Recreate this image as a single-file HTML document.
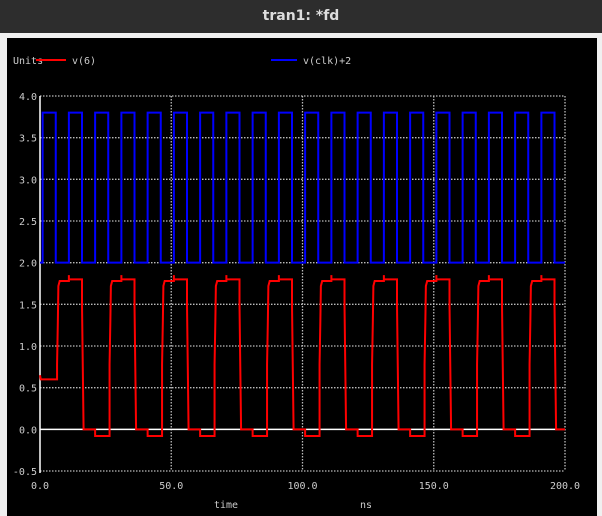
<!DOCTYPE html>
<html><head><meta charset="utf-8"><style>
body{margin:0;width:602px;height:516px;overflow:hidden;background:#f0f0f0;font-family:"DejaVu Sans Mono","Liberation Mono",monospace}
#title{position:absolute;left:0;top:0;width:602px;height:33px;background:#2d2d2d;color:#ddd;font:bold 14px "DejaVu Sans","Liberation Sans",sans-serif;text-align:center;line-height:33px}
#plot{position:absolute;left:7px;top:38px;width:590px;height:478px;background:#000}
svg{position:absolute;left:0;top:0}
text{font-family:"DejaVu Sans Mono","Liberation Mono",monospace;font-size:10px;fill:#ccc}
</style></head><body>
<div id="title">tran1: *fd</div>
<div id="plot"></div>
<svg id="chart" width="602" height="516"></svg>
<script>
const yTicks=[-0.5,0,0.5,1,1.5,2,2.5,3,3.5,4];
const yTickLabels=["-0.5","0.0","0.5","1.0","1.5","2.0","2.5","3.0","3.5","4.0"];
const xTicks=[0,50,100,150,200];
const xTickLabels=["0.0","50.0","100.0","150.0","200.0"];
// clock (v(clk)+2): rising/falling times (ns) and levels
const clkPeriod=10, clkRise=1, clkFall=6, clkLow=2.0, clkHigh=3.8;
// v(6): toggle output rising and falling edge times (ns)
const qRise=[6.5,26.5,46.5,66.5,86.5,106.5,126.5,146.5,166.5,186.5];
const qFall=[16,36,56,76,96,116,136,156,176,196];
const qHigh=1.8, qLow=0.0, qDip=-0.08, qInit=[0.65,0.6], qStep1=1.3, qStep2=0.75;

const svg=document.getElementById('chart');
const NS='http://www.w3.org/2000/svg';
const X0=40,X1=565,Y0=471,Y1=96;
const xs=t=>X0+(t-0)/(200-0)*(X1-X0);
const ys=v=>Y0-(v+0.5)/(4.5)*(Y0-Y1);
function el(tag,attrs,name){const e=document.createElementNS(NS,tag);for(const k in attrs)e.setAttribute(k,attrs[k]);


svg.appendChild(e);return e;}
// grid
yTicks.forEach((v,i)=>{
 if(v!==0) el('line',{x1:X0,x2:X1,y1:ys(v),y2:ys(v),stroke:'#bbb','stroke-width':1.3,'stroke-dasharray':'1.5 1.5'},'y-grid-line');
 const t=el('text',{x:X0-3,y:ys(v)+4,'text-anchor':'end'},'y-tick-label');t.textContent=yTickLabels[i];
});
xTicks.forEach((v,i)=>{
 if(v!==0) el('line',{x1:xs(v),x2:xs(v),y1:Y1,y2:Y0,stroke:'#bbb','stroke-width':1.3,'stroke-dasharray':'1.5 1.5'},'x-grid-line');
 const t=el('text',{x:xs(v),y:489,'text-anchor':'middle'},'x-tick-label');t.textContent=xTickLabels[i];
});
el('line',{x1:X0,x2:X0,y1:Y1,y2:Y0+2,stroke:'#fff','stroke-width':1.5},'y-axis');
el('line',{x1:X0,x2:X1,y1:ys(0),y2:ys(0),stroke:'#fff','stroke-width':1.5},'zero-line');
// clock
let cp=[[0,clkLow]];
for(let t=0;t<200;t+=clkPeriod){cp.push([t+clkRise,clkLow],[t+clkRise,clkHigh],[t+clkFall,clkHigh],[t+clkFall,clkLow]);}
cp.push([200,clkLow]);
el('polyline',{points:cp.map(p=>xs(p[0])+','+ys(p[1])).join(' '),fill:'none',stroke:'#0000ff','stroke-width':2},'clk-series');
// q
let qp=[[0,qInit[0]],[0.3,qInit[1]],[qRise[0],qInit[1]]];
for(let i=0;i<qRise.length;i++){
 const r=qRise[i],f=qFall[i];
 if(i>0){qp.push([r-5.5,qLow],[r-5.5,qDip],[r,qDip]);}
 qp.push([r,qStep1*0.6],[r+0.3,qStep1],[r+0.5,1.72],[r+1,1.78],[r+4.5,1.78],[r+4.5,1.85],[r+4.5,qHigh],[f,qHigh],[f,1.5],[f+0.3,qStep2],[f+0.6,qLow],[Math.min(f+5,200),qLow]);
}
el('polyline',{points:qp.map(p=>xs(p[0])+','+ys(p[1])).join(' '),fill:'none',stroke:'#ff0000','stroke-width':2},'v6-series');
// legend & labels
let t=el('text',{x:13,y:64},'y-units-label');t.textContent='Units';
el('line',{x1:36,x2:66,y1:60,y2:60,stroke:'#ff0000','stroke-width':2},'legend-v6-line');
t=el('text',{x:72,y:64},'legend-v6-label');t.textContent='v(6)';
el('line',{x1:271,x2:297,y1:60,y2:60,stroke:'#0000ff','stroke-width':2},'legend-clk-line');
t=el('text',{x:303,y:64},'legend-clk-label');t.textContent='v(clk)+2';
t=el('text',{x:214,y:508},'x-axis-title');t.textContent='time';
t=el('text',{x:360,y:508},'x-axis-unit');t.textContent='ns';
</script>
</body></html>
